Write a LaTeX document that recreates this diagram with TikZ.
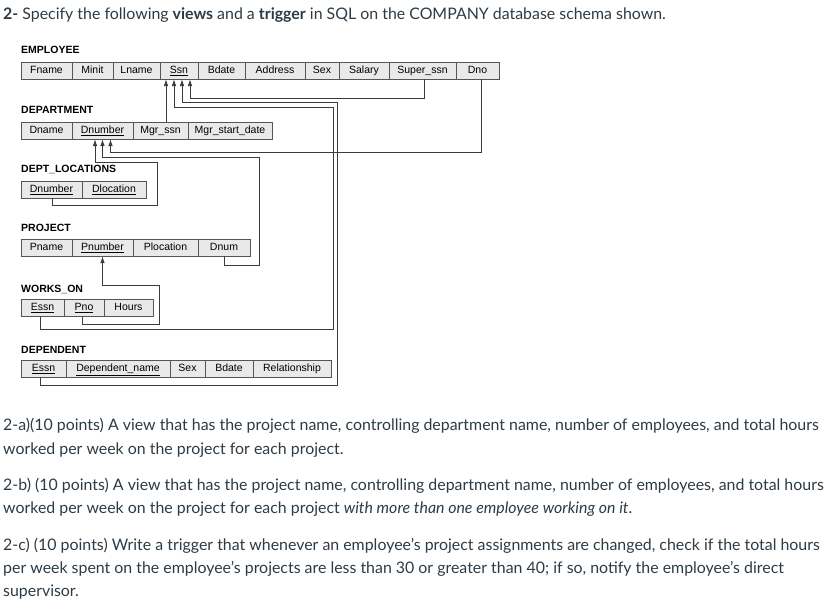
\documentclass[tikz,border=0pt]{standalone}
\usepackage{fontspec}
\setmainfont{Lato}
\newfontfamily\schemafont{Liberation Sans}
\usetikzlibrary{arrows.meta}
\definecolor{canvastext}{HTML}{2D3B45}
\definecolor{cellfill}{HTML}{E9E9E9}
\definecolor{cellline}{HTML}{555555}

\begin{document}
\begin{tikzpicture}[x=1pt, y=-1pt,
    para/.style={anchor=base west, inner sep=0pt, text=canvastext, font=\fontsize{15.9}{18}\selectfont},
    relname/.style={anchor=west, inner sep=0pt, font=\schemafont\bfseries\fontsize{10.5}{12}\selectfont},
    cell/.style={draw=cellline, fill=cellfill, inner sep=0pt, minimum height=17pt,
                 text height=8pt, text depth=2.5pt, font=\schemafont\fontsize{10.5}{12}\selectfont},
    fk/.style={draw=cellline!70!black, line width=0.8pt, -{Latex[length=7pt,width=4.6pt]}}
]

\useasboundingbox (0,0) rectangle (828,614);

% Question heading
\node[para] (title) at (3,19) {\textbf{2-} Specify the following \textbf{views} and a \textbf{trigger} in SQL on the COMPANY database schema shown.};

% EMPLOYEE
\node[relname] (employee) at (21,50) {EMPLOYEE};
\foreach \a/\b/\txt/\nm in {21/72/Fname/fname, 72/113/Minit/minit, 113/160/Lname/lname,
    160/198/\underline{Ssn}/ssn, 198/245/Bdate/bdate, 245/305/Address/address, 305/339/Sex/sex,
    339/389/Salary/salary, 389/456/Super\_ssn/super, 456/499/Dno/dno} {
    \node[cell, minimum width={(\b-\a)*1pt}] (e-\nm) at ({(\a+\b)/2},70.5) {\txt};
}

% DEPARTMENT
\node[relname] (department) at (21,110) {DEPARTMENT};
\foreach \a/\b/\txt/\nm in {21/72/Dname/dname, 72/133/\underline{Dnumber}/dnum,
    133/188/Mgr\_ssn/mgr, 188/272/Mgr\_start\_date/start} {
    \node[cell, minimum width={(\b-\a)*1pt}] (d-\nm) at ({(\a+\b)/2},130.5) {\txt};
}

% DEPT_LOCATIONS
\node[relname] (deptloc) at (21,169) {DEPT\_LOCATIONS};
\foreach \a/\b/\txt/\nm in {21/82/\underline{Dnumber}/dnum, 82/146/\underline{Dlocation}/dloc} {
    \node[cell, minimum width={(\b-\a)*1pt}] (l-\nm) at ({(\a+\b)/2},189.5) {\txt};
}

% PROJECT
\node[relname] (project) at (21,228) {PROJECT};
\foreach \a/\b/\txt/\nm in {21/72/Pname/pname, 72/133/\underline{Pnumber}/pnum,
    133/198/Plocation/ploc, 198/250/Dnum/dnum} {
    \node[cell, minimum width={(\b-\a)*1pt}] (p-\nm) at ({(\a+\b)/2},247.5) {\txt};
}

% WORKS_ON
\node[relname] (workson) at (21,289) {WORKS\_ON};
\foreach \a/\b/\txt/\nm in {21/64/\underline{Essn}/essn, 64/104/\underline{Pno}/pno, 104/153/Hours/hours} {
    \node[cell, minimum width={(\b-\a)*1pt}] (w-\nm) at ({(\a+\b)/2},308) {\txt};
}

% DEPENDENT
\node[relname] (dependent) at (21,350) {DEPENDENT};
\foreach \a/\b/\txt/\nm in {21/66/\underline{Essn}/essn, 66/170/\underline{Dependent\_name}/dname,
    170/205/Sex/sex, 205/253/Bdate/bdate, 253/331/Relationship/rel} {
    \node[cell, minimum width={(\b-\a)*1pt}] (t-\nm) at ({(\a+\b)/2},368.5) {\txt};
}

% Referential integrity constraints
\draw[fk] ([xshift=1.5pt]e-super.south) -- ++(0,19) -| ([xshift=11pt]e-ssn.south);
\draw[fk] ([xshift=-2.5pt]w-essn.south) -- ++(0,12.5) -- ++(293.5,0) -- ++(0,-221.5) -| ([xshift=-5pt]e-ssn.south);
\draw[fk] ([xshift=-3.5pt]t-essn.south) -- ++(0,8.5) -- ++(297.5,0) -- ++(0,-283.5) -| ([xshift=3pt]e-ssn.south);
\draw[fk] ([xshift=5.5pt]d-mgr.north) -- ([xshift=-13pt]e-ssn.south);
\draw[fk] ([xshift=3.5pt]e-dno.south) -- ++(0,73) -| ([xshift=8pt]d-dnum.south);
\draw[fk] (p-dnum.south) -- ++(0,9) -- ++(35,0) -- ++(0,-107.5) -| (d-dnum.south);
\draw[fk] ([xshift=1pt]l-dnum.south) -- ++(0,7) -- ++(105,0) -- ++(0,-43) -| ([xshift=-7.5pt]d-dnum.south);
\draw[fk] ([xshift=-1.5pt]w-pno.south) -- ++(0,8) -- ++(77,0) -- ++(0,-39.5) -| (p-pnum.south);

% Questions
\node[para] (qa1) at (3,430.7) {2-a)(10 points) A view that has the project name, controlling department name, number of employees, and total hours};
\node[para] (qa2) at (3,454) {worked per week on the project for each project.};
\node[para] (qb1) at (3,490) {2-b) (10 points) A view that has the project name, controlling department name, number of employees, and total hours};
\node[para] (qb2) at (3,513.3) {worked per week on the project for each project \textit{with more than one employee working on it}.};
\node[para] (qc1) at (3,550) {2-c) (10 points) Write a trigger that whenever an employee’s project assignments are changed, check if the total hours};
\node[para] (qc2) at (3,573.3) {per week spent on the employee’s projects are less than 30 or greater than 40; if so, notify the employee’s direct};
\node[para] (qc3) at (3,596.7) {supervisor.};

\end{tikzpicture}
\end{document}
